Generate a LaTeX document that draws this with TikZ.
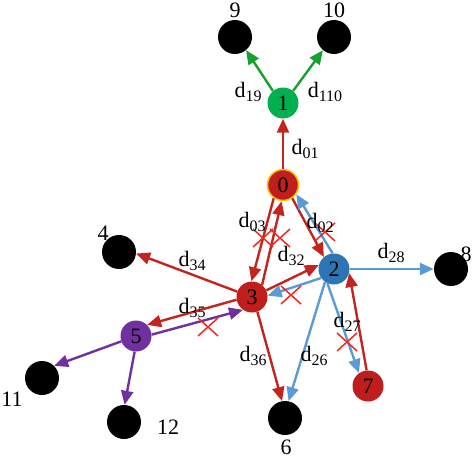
\documentclass[tikz,border=0pt]{standalone}
\usepackage{fontspec}
\setmainfont{Liberation Serif}
\usetikzlibrary{arrows.meta,calc}
\definecolor{cred}{RGB}{192,30,28}
\definecolor{lred}{RGB}{196,36,30}
\definecolor{cblue}{RGB}{46,117,182}
\definecolor{lblue}{RGB}{91,155,213}
\definecolor{cgreen}{RGB}{0,176,80}
\definecolor{lgreen}{RGB}{22,160,48}
\definecolor{cpurple}{RGB}{112,48,160}
\definecolor{xred}{RGB}{240,40,30}
\definecolor{cyel}{RGB}{255,192,0}
\newcommand\dl[1]{d\raisebox{-0.4ex}{\fontsize{16}{16}\selectfont #1}}
\tikzset{
  vtx/.style={circle,minimum size=31pt,inner sep=0pt,font=\fontsize{22}{22}\selectfont},
  blk/.style={circle,fill=black,minimum size=34pt,inner sep=0pt},
  arr/.style={line width=2.4pt,-{Triangle[length=14pt,width=12pt]}},
  lab/.style={font=\fontsize{22}{22}\selectfont,inner sep=0pt},
  xmark/.style={xred,line width=1.5pt},
}
\newcommand\xcross[1]{\draw[xmark] ($#1+(-10,-9)$) -- ($#1+(10,9)$) ($#1+(-10,9)$) -- ($#1+(10,-9)$);}
\begin{document}
\begin{tikzpicture}[x=1pt,y=-1pt]
\useasboundingbox (0,0) rectangle (474,460);
% nodes
\node[blk] (n9) at (235,37) {};
\node[blk] (n10) at (334,37) {};
\node[vtx,fill=cgreen] (n1) at (283,103) {1};
\node[vtx,fill=cred,draw=cyel,line width=1.5pt] (n0) at (283,185) {0};
\node[vtx,fill=cblue] (n2) at (334,269) {2};
\node[vtx,fill=cred] (n3) at (252,297) {3};
\node[blk] (n4) at (119,252) {};
\node[vtx,fill=cpurple] (n5) at (136,336) {5};
\node[blk] (n11) at (42,378) {};
\node[blk] (n12) at (124,422) {};
\node[blk] (n6) at (285,418) {};
\node[vtx,fill=cred] (n7) at (368,386) {7};
\node[blk] (n8) at (451,269) {};
% outer labels
\node[lab] (t9) at (235,10) {9};
\node[lab] (t10) at (334,10) {10};
\node[lab] (t4) at (103,233) {4};
\node[lab] (t8) at (466,254) {8};
\node[lab] (t6) at (286,447) {6};
\node[lab] (t11) at (12,399) {11};
\node[lab] (t12) at (168,427) {12};
% edges
\draw[arr,lgreen] (n1.130) -- (n9.-50);
\draw[arr,lgreen] (n1.50) -- (n10.230);
\draw[arr,lred] (n0.90) -- (n1.270);
\draw[arr,lred] (n0.235) -- (n3.92);
\draw[arr,lred] (n3.50) -- (n0.265);
\draw[arr,lred] (n0.-55) -- (n2.130);
\draw[arr,lblue] (n2.95) -- (n0.-35);
\draw[arr,lred] (n3.25) -- (n2.165);
\draw[arr,lblue] (n2.215) -- (n3.5);
\draw[arr,lblue] (n2.235) -- (n6.78);
\draw[arr,lblue] (n2.245) -- (n7.125);
\draw[arr,lred] (n7.95) -- (n2.-15);
\draw[arr,lblue] (n2.0) -- (n8.180);
\draw[arr,lred] (n3.-70) -- (n6.100);
\draw[arr,lred] (n3.160) -- (n4.-5);
\draw[arr,lred] (n3.190) -- (n5.45);
\draw[arr,cpurple] (n5.5) -- (n3.235);
\draw[arr,cpurple] (n5.200) -- (n11.45);
\draw[arr,cpurple] (n5.265) -- (n12.88);
% crosses
\xcross{(263,238)}
\xcross{(280,238)}
\xcross{(325,232)}
\xcross{(291,295)}
\xcross{(208,327)}
\xcross{(347,342)}
% edge labels
\node[lab] (d19) at (248,92) {\dl{19}};
\node[lab] (d110) at (325,92) {\dl{110}};
\node[lab] (d01) at (305,149) {\dl{01}};
\node[lab] (d03) at (252,222) {\dl{03}};
\node[lab] (d02) at (320,223) {\dl{02}};
\node[lab] (d32) at (291,256) {\dl{32}};
\node[lab] (d34) at (192,261) {\dl{34}};
\node[lab] (d35) at (192,308) {\dl{35}};
\node[lab] (d36) at (253,356) {\dl{36}};
\node[lab] (d26) at (314,356) {\dl{26}};
\node[lab] (d27) at (347,322) {\dl{27}};
\node[lab] (d28) at (391,253) {\dl{28}};
\end{tikzpicture}
\end{document}
